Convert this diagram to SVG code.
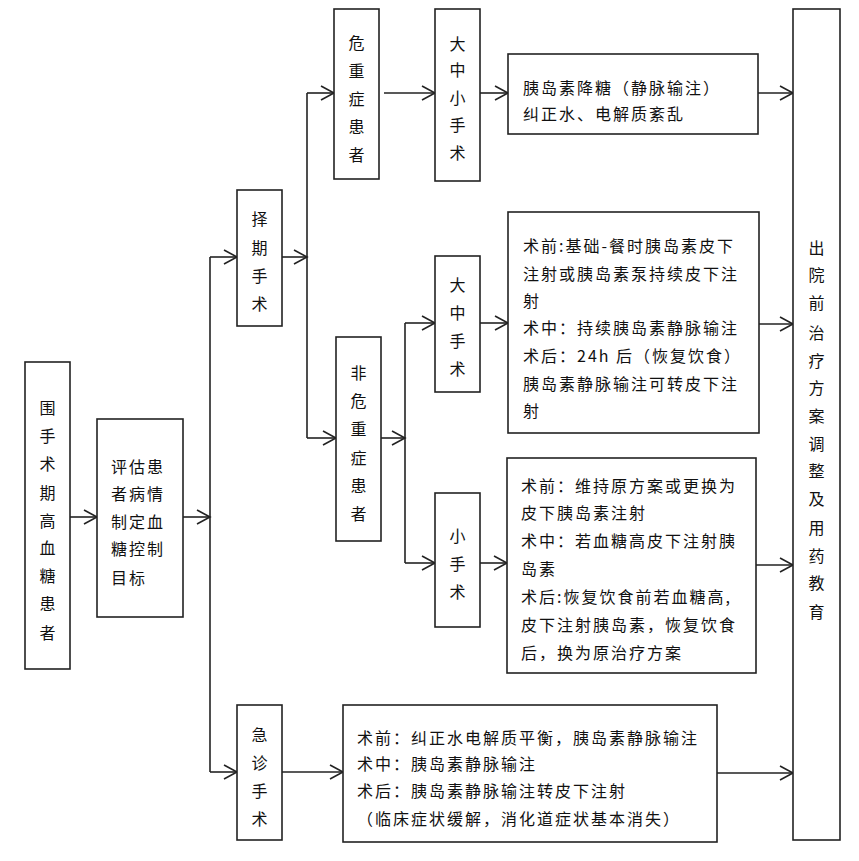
<svg xmlns="http://www.w3.org/2000/svg" width="859" height="861" viewBox="0 0 859 861">
<style>
.box{fill:#fff;stroke:#222;stroke-width:1.6}
.t{font-family:"Noto Sans CJK SC","Noto Sans",sans-serif;font-size:16px;fill:#111;letter-spacing:2px}
.v{font-family:"Noto Sans CJK SC","Noto Sans",sans-serif;font-size:16px;fill:#111;text-anchor:middle;dominant-baseline:central}
.c{fill:none;stroke:#222;stroke-width:1.6}
.a{marker-end:url(#arr)}
</style>
<defs>
<marker id="arr" markerUnits="userSpaceOnUse" viewBox="-15 -9 17 18" markerWidth="17" markerHeight="18" refX="0" refY="0" orient="auto">
<path d="M-13,-7 L0,0 L-13,7" fill="none" stroke="#222" stroke-width="1.6"/>
</marker>
</defs>
<g id="connectors">
<path class="c a" d="M70,517 H97"/>
<path class="c a" d="M183,517 H210"/>
<path class="c" d="M210,257 V772"/>
<path class="c a" d="M210,257 H237"/>
<path class="c a" d="M210,772 H237"/>
<path class="c a" d="M282,257 H307"/>
<path class="c" d="M307,93 V438"/>
<path class="c a" d="M307,93 H334"/>
<path class="c a" d="M307,438 H336"/>
<path class="c a" d="M384,93 H435"/>
<path class="c a" d="M480,93 H508"/>
<path class="c a" d="M758,93 H793"/>
<path class="c a" d="M381,438 H405"/>
<path class="c" d="M405,323 V563"/>
<path class="c a" d="M405,323 H435"/>
<path class="c a" d="M405,563 H435"/>
<path class="c a" d="M480,323 H508"/>
<path class="c a" d="M759,324 H793"/>
<path class="c a" d="M480,563 H507"/>
<path class="c a" d="M756,565 H793"/>
<path class="c a" d="M282,772 H343"/>
<path class="c a" d="M717,773 H793"/>
</g>
<g id="n-start">
<rect class="box" x="25" y="362" width="45" height="307"/>
<text class="v" x="47.5" y="407">围</text>
<text class="v" x="47.5" y="435">手</text>
<text class="v" x="47.5" y="463">术</text>
<text class="v" x="47.5" y="492">期</text>
<text class="v" x="47.5" y="520">高</text>
<text class="v" x="47.5" y="547">血</text>
<text class="v" x="47.5" y="575">糖</text>
<text class="v" x="47.5" y="603">患</text>
<text class="v" x="47.5" y="632">者</text>
</g>
<g id="n-assess">
<rect class="box" x="97" y="419" width="86" height="198"/>
<text class="t" x="111" y="466" dominant-baseline="central">评估患</text>
<text class="t" x="111" y="493" dominant-baseline="central">者病情</text>
<text class="t" x="111" y="521" dominant-baseline="central">制定血</text>
<text class="t" x="111" y="548" dominant-baseline="central">糖控制</text>
<text class="t" x="111" y="577" dominant-baseline="central">目标</text>
</g>
<g id="n-elective">
<rect class="box" x="237" y="190" width="45" height="136"/>
<text class="v" x="259.5" y="218">择</text>
<text class="v" x="259.5" y="247">期</text>
<text class="v" x="259.5" y="275">手</text>
<text class="v" x="259.5" y="303">术</text>
</g>
<g id="n-emergency">
<rect class="box" x="237" y="705" width="45" height="135"/>
<text class="v" x="259.5" y="734">急</text>
<text class="v" x="259.5" y="762">诊</text>
<text class="v" x="259.5" y="790">手</text>
<text class="v" x="259.5" y="818">术</text>
</g>
<g id="n-critical">
<rect class="box" x="334" y="9" width="45" height="170"/>
<text class="v" x="356.5" y="42">危</text>
<text class="v" x="356.5" y="70">重</text>
<text class="v" x="356.5" y="98">症</text>
<text class="v" x="356.5" y="126">患</text>
<text class="v" x="356.5" y="154">者</text>
</g>
<g id="n-noncritical">
<rect class="box" x="336" y="337" width="45" height="204"/>
<text class="v" x="358.5" y="372">非</text>
<text class="v" x="358.5" y="400">危</text>
<text class="v" x="358.5" y="428">重</text>
<text class="v" x="358.5" y="457">症</text>
<text class="v" x="358.5" y="485">患</text>
<text class="v" x="358.5" y="513">者</text>
</g>
<g id="n-allsurg">
<rect class="box" x="435" y="9" width="45" height="172"/>
<text class="v" x="457.5" y="43">大</text>
<text class="v" x="457.5" y="69">中</text>
<text class="v" x="457.5" y="97">小</text>
<text class="v" x="457.5" y="124">手</text>
<text class="v" x="457.5" y="152">术</text>
</g>
<g id="n-majorsurg">
<rect class="box" x="435" y="256" width="45" height="136"/>
<text class="v" x="457.5" y="284">大</text>
<text class="v" x="457.5" y="312">中</text>
<text class="v" x="457.5" y="340">手</text>
<text class="v" x="457.5" y="368">术</text>
</g>
<g id="n-minorsurg">
<rect class="box" x="435" y="493" width="45" height="134"/>
<text class="v" x="457.5" y="535">小</text>
<text class="v" x="457.5" y="563">手</text>
<text class="v" x="457.5" y="591">术</text>
</g>
<g id="n-critical-plan">
<rect class="box" x="508" y="54" width="250" height="80"/>
<text class="t" x="523" y="87" dominant-baseline="central">胰岛素降糖（静脉输注）</text>
<text class="t" x="523" y="113" dominant-baseline="central">纠正水、电解质紊乱</text>
</g>
<g id="n-major-plan">
<rect class="box" x="508" y="212" width="251" height="221"/>
<text class="t" x="523" y="245" dominant-baseline="central">术前:基础-餐时胰岛素皮下</text>
<text class="t" x="523" y="273" dominant-baseline="central">注射或胰岛素泵持续皮下注</text>
<text class="t" x="523" y="300" dominant-baseline="central">射</text>
<text class="t" x="523" y="327" dominant-baseline="central">术中：持续胰岛素静脉输注</text>
<text class="t" x="523" y="355" dominant-baseline="central">术后：24h 后（恢复饮食）</text>
<text class="t" x="523" y="383" dominant-baseline="central">胰岛素静脉输注可转皮下注</text>
<text class="t" x="523" y="410" dominant-baseline="central">射</text>
</g>
<g id="n-minor-plan">
<rect class="box" x="507" y="458" width="249" height="215"/>
<text class="t" x="521" y="485" dominant-baseline="central">术前：维持原方案或更换为</text>
<text class="t" x="521" y="512" dominant-baseline="central">皮下胰岛素注射</text>
<text class="t" x="521" y="540" dominant-baseline="central">术中：若血糖高皮下注射胰</text>
<text class="t" x="521" y="568" dominant-baseline="central">岛素</text>
<text class="t" x="521" y="596" dominant-baseline="central">术后:恢复饮食前若血糖高,</text>
<text class="t" x="521" y="624" dominant-baseline="central">皮下注射胰岛素，恢复饮食</text>
<text class="t" x="521" y="652" dominant-baseline="central">后，换为原治疗方案</text>
</g>
<g id="n-emergency-plan">
<rect class="box" x="343" y="705" width="374" height="137"/>
<text class="t" x="357" y="737" dominant-baseline="central">术前：纠正水电解质平衡，胰岛素静脉输注</text>
<text class="t" x="357" y="763" dominant-baseline="central">术中：胰岛素静脉输注</text>
<text class="t" x="357" y="790" dominant-baseline="central">术后：胰岛素静脉输注转皮下注射</text>
<text class="t" x="357" y="818" dominant-baseline="central">（临床症状缓解，消化道症状基本消失）</text>
</g>
<g id="n-discharge">
<rect class="box" x="793" y="9" width="47" height="831"/>
<text class="v" x="816.5" y="247">出</text>
<text class="v" x="816.5" y="274">院</text>
<text class="v" x="816.5" y="302">前</text>
<text class="v" x="816.5" y="332">治</text>
<text class="v" x="816.5" y="360">疗</text>
<text class="v" x="816.5" y="387">方</text>
<text class="v" x="816.5" y="415">案</text>
<text class="v" x="816.5" y="443">调</text>
<text class="v" x="816.5" y="470">整</text>
<text class="v" x="816.5" y="498">及</text>
<text class="v" x="816.5" y="527">用</text>
<text class="v" x="816.5" y="555">药</text>
<text class="v" x="816.5" y="582">教</text>
<text class="v" x="816.5" y="611">育</text>
</g>
</svg>
